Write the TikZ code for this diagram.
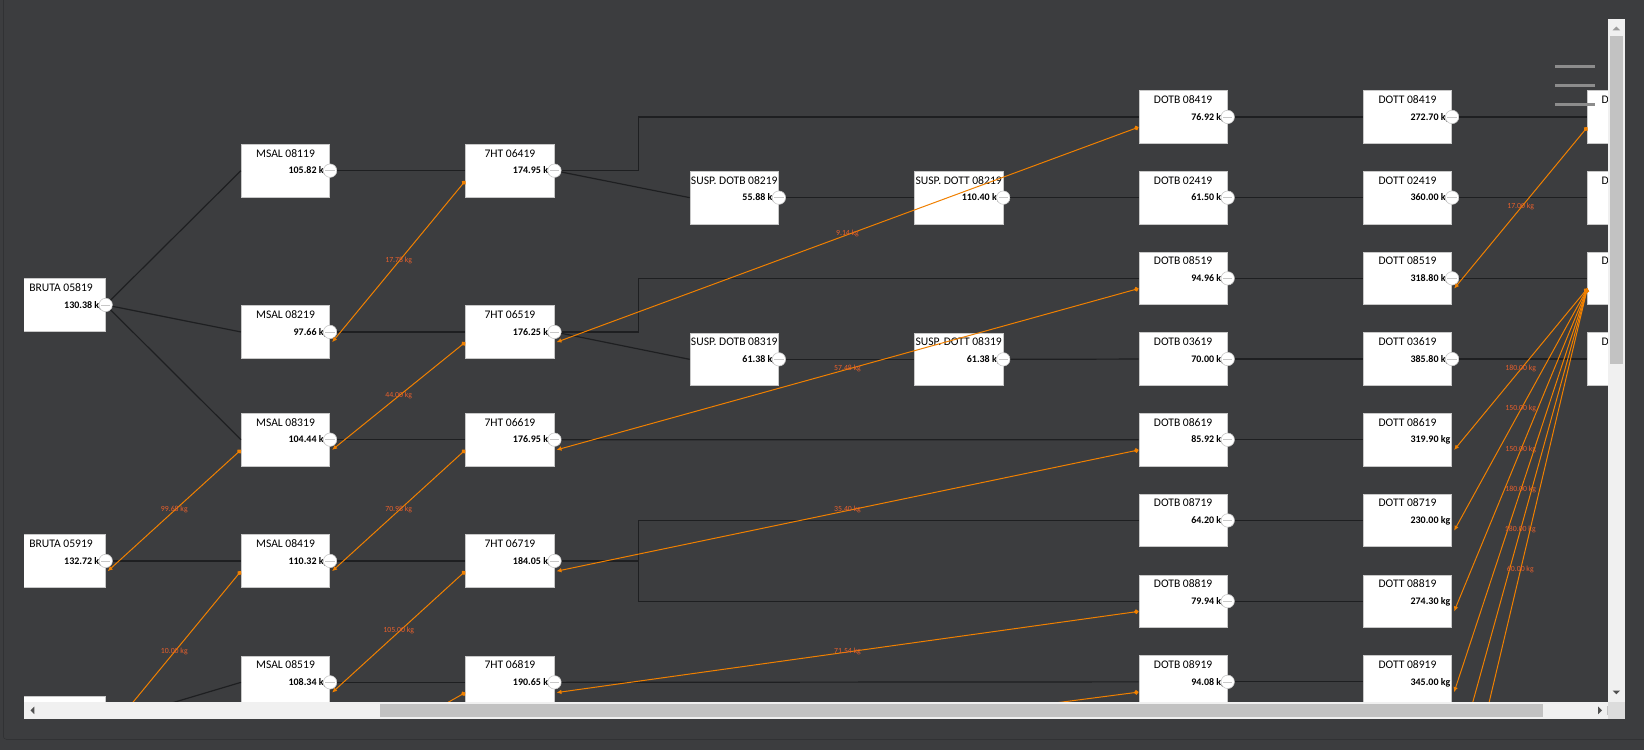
\documentclass[tikz,border=0pt]{standalone}
\usepackage{fontspec}
\setmainfont{Carlito}
\usepackage{tikz}
\usetikzlibrary{calc, arrows.meta}
\definecolor{canvas}{RGB}{60, 61, 63}
\definecolor{frameline}{RGB}{44, 45, 47}
\definecolor{wirecol}{RGB}{30, 31, 33}
\definecolor{boxline}{RGB}{200, 200, 200}
\definecolor{flowcol}{RGB}{240, 128, 0}
\definecolor{flowtext}{RGB}{232, 96, 44}
\definecolor{track}{RGB}{240, 240, 240}
\definecolor{thumb}{RGB}{194, 194, 194}
\definecolor{corner}{RGB}{220, 220, 220}
\definecolor{glyph}{RGB}{80, 80, 80}
\definecolor{menucol}{RGB}{140, 140, 140}
\newcommand{\titlefont}{\fontsize{11.6}{12}\selectfont}
\newcommand{\valuefont}{\bfseries\fontsize{10}{11}\selectfont}
\newcommand{\kgfont}{\fontsize{7.8}{8}\selectfont}
\newcommand{\lotbox}[5]{%
  \node[box] (#1) at (#2,#3) {};
  \node[title] at ($(#1.north)+(0,13)$) {#4};
  \node[value] at ($(#1.north east)+(-1.5,29.8)$) {#5 kg};
}
\newcommand{\lotport}[1]{\node[port] (#1-p) at (#1.east) {};}

\begin{document}
\begin{tikzpicture}[x=1pt, y=-1pt,
    box/.style={draw=boxline, line width=0.8, fill=white, minimum width=88.4,
      minimum height=52.5, inner sep=0, anchor=north west},
    title/.style={font=\titlefont, anchor=base, inner sep=0},
    value/.style={font=\valuefont, anchor=base east, inner sep=0},
    port/.style={circle, draw=boxline, line width=0.6, fill=white, minimum size=13.4, inner sep=0,
      path picture={\draw[boxline] ([xshift=2]path picture bounding box.west)
        -- ([xshift=-2]path picture bounding box.east);}},
    wire/.style={draw=wirecol, line width=1.2},
    back/.style={draw=flowcol, line width=1, arrows={Circle[length=4.6]-Latex[length=5, width=4.6]}},
    kg/.style={font=\kgfont, text=flowtext, midway, inner sep=0, yshift=1}]

  \useasboundingbox (0,0) rectangle (1644,750);
  \fill[canvas] (0,0) rectangle (1644,750);
  \draw[frameline, rounded corners=3] (3.3,-5) -- (3.3,739.3) -- (1650,739.3);

  \begin{scope}
    \clip (24,19) rectangle (1608.3,702);

    \lotbox{bruta1}{16.5}{278.3}{BRUTA 05819}{130.38}
    \lotport{bruta1}
    \lotbox{bruta2}{16.5}{534.3}{BRUTA 05919}{132.72}
    \lotport{bruta2}
    \node[box] (bruta3) at (16.5,696) {};

    \foreach \n/\tp/\ca/\va/\cb/\vb in {1/144/08119/105.82/06419/174.95,
        2/305.3/08219/97.66/06519/176.25, 3/413/08319/104.44/06619/176.95,
        4/534.3/08419/110.32/06719/184.05, 5/655.7/08519/108.34/06819/190.65} {
      \lotbox{msal\n}{240.9}{\tp}{MSAL \ca}{\va}
      \lotport{msal\n}
      \lotbox{ht\n}{465.3}{\tp}{7HT \cb}{\vb}
      \lotport{ht\n}
    }

    \foreach \n/\tp/\ca/\va/\cb/\vb in {1/171/08219/55.88/08219/110.40,
        2/332.7/08319/61.38/08319/61.38} {
      \lotbox{suspb\n}{689.7}{\tp}{SUSP. DOTB \ca}{\va}
      \lotport{suspb\n}
      \lotbox{suspt\n}{914.1}{\tp}{SUSP. DOTT \cb}{\vb}
      \lotport{suspt\n}
    }

    \foreach \n/\ca/\va/\cb/\vb in {1/08419/76.92/08419/272.70, 2/02419/61.50/02419/360.00,
        3/08519/94.96/08519/318.80, 4/03619/70.00/03619/385.80, 5/08619/85.92/08619/319.90,
        6/08719/64.20/08719/230.00, 7/08819/79.94/08819/274.30, 8/08919/94.08/08919/345.00} {
      \pgfmathsetmacro{\tp}{90.3+80.7*(\n-1)}
      \lotbox{dotb\n}{1138.5}{\tp}{DOTB \ca}{\va}
      \lotport{dotb\n}
      \lotbox{dott\n}{1362.9}{\tp}{DOTT \cb}{\vb}
      \ifnum\n<5 \lotport{dott\n}\fi
    }

    \foreach \n in {1,...,4} {
      \pgfmathsetmacro{\tp}{90.3+80.7*(\n-1)}
      \node[box] (next\n) at (1587.3,\tp) {};
      \node[title, anchor=base west] at ($(next\n.north west)+(14,13)$) {D};
    }

    \coordinate (msal6) at (329.3,757.75);
    \coordinate (ht6) at (553.7,757.75);
    \coordinate (dott9) at (1451.3,762.2);
    \coordinate (dott10) at (1451.3,842.9);

    \draw[wire] (bruta1-p) -- (msal1.west);
    \draw[wire] (bruta1-p) -- (msal2.west);
    \draw[wire] (bruta1-p) -- (msal3.west);
    \draw[wire] (bruta2-p) -- (msal4.west);
    \draw[wire] (bruta3.east) -- (msal5.west);
    \foreach \n in {1,...,5}
      \draw[wire] (msal\n-p) -- (ht\n.west);
    \draw[wire] (ht1-p.east) -- ++(77,0) |- (dotb1.west);
    \draw[wire] (ht1-p) -- (suspb1.west);
    \draw[wire] (ht2-p.east) -- ++(77,0) |- (dotb3.west);
    \draw[wire] (ht2-p) -- (suspb2.west);
    \draw[wire] (ht3-p) -- (dotb5.west);
    \draw[wire] (ht4-p.east) -- ++(77,0) |- (dotb6.west);
    \draw[wire] (ht4-p.east) -- ++(77,0) |- (dotb7.west);
    \draw[wire] (ht5-p) -- (dotb8.west);
    \draw[wire] (suspb1-p) -- (suspt1.west);
    \draw[wire] (suspt1-p) -- (dotb2.west);
    \draw[wire] (suspb2-p) -- (suspt2.west);
    \draw[wire] (suspt2-p) -- (dotb4.west);
    \foreach \n in {1,...,8}
      \draw[wire] (dotb\n-p) -- (dott\n.west);
    \foreach \n in {1,...,4}
      \draw[wire] (dott\n-p) -- (next\n.west);

    \draw[back] ($(ht1.west)+(0,10.25)$) -- ($(msal2.east)+(2,10.25)$) node[kg] {17.78 kg};
    \draw[back] ($(dotb1.west)+(0,10.25)$) -- ($(ht2.east)+(2,10.25)$) node[kg] {9.14 kg};
    \draw[back] ($(ht2.west)+(0,10.25)$) -- ($(msal3.east)+(2,10.25)$) node[kg] {44.00 kg};
    \draw[back] ($(dotb3.west)+(0,10.25)$) -- ($(ht3.east)+(2,10.25)$) node[kg] {57.48 kg};
    \draw[back] ($(msal3.west)+(0,10.25)$) -- ($(bruta2.east)+(2,10.25)$) node[kg] {99.68 kg};
    \draw[back] ($(ht3.west)+(0,10.25)$) -- ($(msal4.east)+(2,10.25)$) node[kg] {70.98 kg};
    \draw[back] ($(dotb5.west)+(0,10.25)$) -- ($(ht4.east)+(2,10.25)$) node[kg] {35.40 kg};
    \draw[back] ($(msal4.west)+(0,10.25)$) -- ($(bruta3.east)+(2,10.25)$) node[kg] {10.00 kg};
    \draw[back] ($(ht4.west)+(0,10.25)$) -- ($(msal5.east)+(2,10.25)$) node[kg] {105.00 kg};
    \draw[back] ($(dotb7.west)+(0,10.25)$) -- ($(ht5.east)+(2,10.25)$) node[kg] {71.54 kg};
    \draw[back] ($(ht5.west)+(0,10.25)$) -- ($(msal6)+(2,10.25)$);
    \draw[back] ($(dotb8.west)+(0,10.25)$) -- ($(ht6)+(2,10.25)$);
    \draw[back] ($(next1.west)+(0,10.25)$) -- ($(dott3.east)+(2,10.25)$) node[kg] {17.00 kg};
    \foreach \d/\w in {dott5/180.00, dott6/150.00, dott7/150.00, dott8/180.00, dott9/180.00, dott10/60.00}
      \draw[back] ($(next3.west)+(0,10.25)$) -- ($(\d.east)+(2,10.25)$) node[kg] {\w{} kg};
  \end{scope}

  \foreach \y in {66.7, 85.3, 104.3}
    \draw[menucol, line width=2.7] (1555,\y) -- (1595,\y);

  \fill[track] (1608.3,19) rectangle (1624.7,702);
  \fill[thumb] (1610,36) rectangle (1623,364.3);
  \fill[thumb!80!black] (1612.5,30.3) -- (1620.1,30.3) -- (1616.3,26.5) -- cycle;
  \fill[glyph] (1612.5,690.5) -- (1620.1,690.5) -- (1616.3,694.3) -- cycle;
  \fill[track] (24,702) rectangle (1608.3,718.7);
  \fill[thumb] (379.6,704.3) rectangle (1543,716.7);
  \fill[glyph] (30.5,710.3) -- (34.3,706.5) -- (34.3,714.1) -- cycle;
  \fill[glyph] (1602,710.3) -- (1598.2,706.5) -- (1598.2,714.1) -- cycle;
  \draw[thumb] (1606.7,706) -- (1606.7,715);
  \fill[corner] (1608.3,702) rectangle (1624.7,718.7);

\end{tikzpicture}
\end{document}
